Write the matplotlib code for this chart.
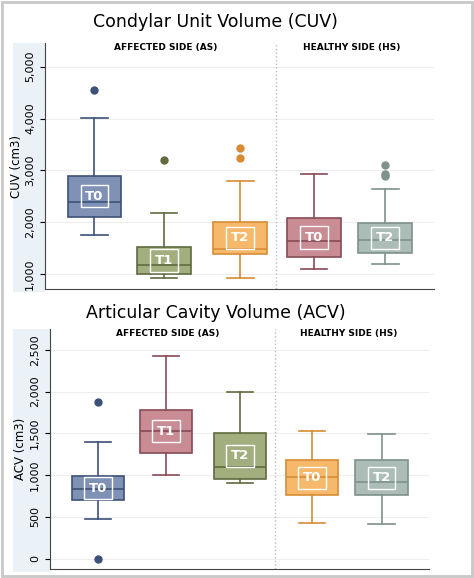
import matplotlib
matplotlib.use("Agg")
import matplotlib.pyplot as plt
from matplotlib.patches import Rectangle

# --- data ---
groups = ["T0", "T1", "T2", "T0", "T2"]
positions = [1.0, 1.96, 3.01, 4.03, 5.01]

cuv_stats = [  # whislo, q1, med, q3, whishi, fliers
    (1750, 2110, 2400, 2900, 4010, [4550]),
    (930, 1000, 1170, 1530, 2170, [3210]),
    (930, 1390, 1490, 2010, 2800, [3240, 3430]),
    (1100, 1330, 1630, 2080, 2940, []),
    (1200, 1410, 1660, 1990, 2650, [2890, 2930, 3100]),
]
acv_stats = [
    (480, 700, 840, 985, 1400, [1880, 0]),
    (1000, 1270, 1530, 1780, 2430, []),
    (910, 960, 1100, 1500, 2000, []),
    (430, 760, 980, 1180, 1530, []),
    (420, 760, 920, 1180, 1490, []),
]
cuv_ticks = [1000, 2000, 3000, 4000, 5000]
acv_ticks = [0, 500, 1000, 1500, 2000, 2500]

BLUE = ("#7f92b6", "#3d5077")
GREEN = ("#a2ae7e", "#5f6b3f")
ORANGE = ("#f6b96c", "#d88b35")
PINK = ("#c98b94", "#874a55")
GREY = ("#abbdb6", "#7e918a")
cuv_colors = [BLUE, GREEN, ORANGE, PINK, GREY]
acv_colors = [BLUE, PINK, GREEN, ORANGE, GREY]

fig = plt.figure(figsize=(4.74, 5.78), dpi=100)
fig.patches.append(Rectangle((0.004, 0.004), 0.992, 0.992, transform=fig.transFigure,
                             fill=False, ec="#c8c8c8", lw=2))


def panel(rect, stats, colors, ticks, ylim, ylabel, title, title_y):
    # light blue strip behind the y ticks
    fig.patches.append(Rectangle((0.027, rect[1] - 0.005), rect[0] - 0.027, rect[3] + 0.005,
                                 transform=fig.transFigure, fc="#eaf2f7", ec="none",
                                 zorder=-5))
    ax = fig.add_axes(rect)
    ax.set_facecolor("white")
    bx = []
    for lo, q1, med, q3, hi, fl in stats:
        bx.append(dict(whislo=lo, q1=q1, med=med, q3=q3, whishi=hi, fliers=fl))
    arts = ax.bxp(bx, positions=positions, widths=0.74, patch_artist=True,
                  showcaps=True, manage_ticks=False)
    for i, (fc, ec) in enumerate(colors):
        arts["boxes"][i].set(facecolor=fc, edgecolor=ec, lw=1.2)
        arts["medians"][i].set(color=ec, lw=1.2)
        for ln in arts["whiskers"][2 * i:2 * i + 2] + arts["caps"][2 * i:2 * i + 2]:
            ln.set(color=ec, lw=1.2)
        arts["fliers"][i].set(marker="o", markerfacecolor=ec, markeredgecolor=ec, markersize=5)
        s = stats[i]
        ax.text(positions[i], (s[1] + s[3]) / 2, groups[i], color="white", fontsize=9.5,
                fontweight="bold", ha="center", va="center",
                bbox=dict(boxstyle="square,pad=0.35", fc="none", ec="white", lw=1))
    ax.set_xlim(0.32, 5.68)
    ax.set_ylim(*ylim)
    ax.set_yticks(ticks)
    ax.set_yticklabels([f"{t:,}" for t in ticks], rotation=90, va="center", fontsize=8)
    ax.set_xticks([])
    ax.grid(axis="y", color="#eeeeee", lw=0.8)
    ax.set_axisbelow(True)
    for sp in ("top", "right"):
        ax.spines[sp].set_visible(False)
    ax.spines["left"].set_color("#444444")
    ax.spines["bottom"].set_color("#444444")
    ax.axvline(3.51, color="#bbbbbb", ls=":", lw=1)
    ax.set_ylabel(ylabel, fontsize=8.5, labelpad=2)
    ax.text(1.98, 1.0, "AFFECTED SIDE (AS)", transform=ax.get_xaxis_transform(),
            ha="center", va="top", fontsize=6.5, fontweight="bold")
    ax.text(4.55, 1.0, "HEALTHY SIDE (HS)", transform=ax.get_xaxis_transform(),
            ha="center", va="top", fontsize=6.5, fontweight="bold")
    fig.text(0.455, title_y, title, ha="center", va="center", fontsize=12.5)
    return ax


panel([0.095, 0.5, 0.82, 0.425], cuv_stats, cuv_colors, cuv_ticks, (714, 5450),
      "CUV (cm3)", "Condylar Unit Volume (CUV)", 0.962)
panel([0.105, 0.016, 0.80, 0.415], acv_stats, acv_colors, acv_ticks, (-119, 2750),
      "ACV (cm3)", "Articular Cavity Volume (ACV)", 0.458)

fig.savefig("out.png", dpi=100)
